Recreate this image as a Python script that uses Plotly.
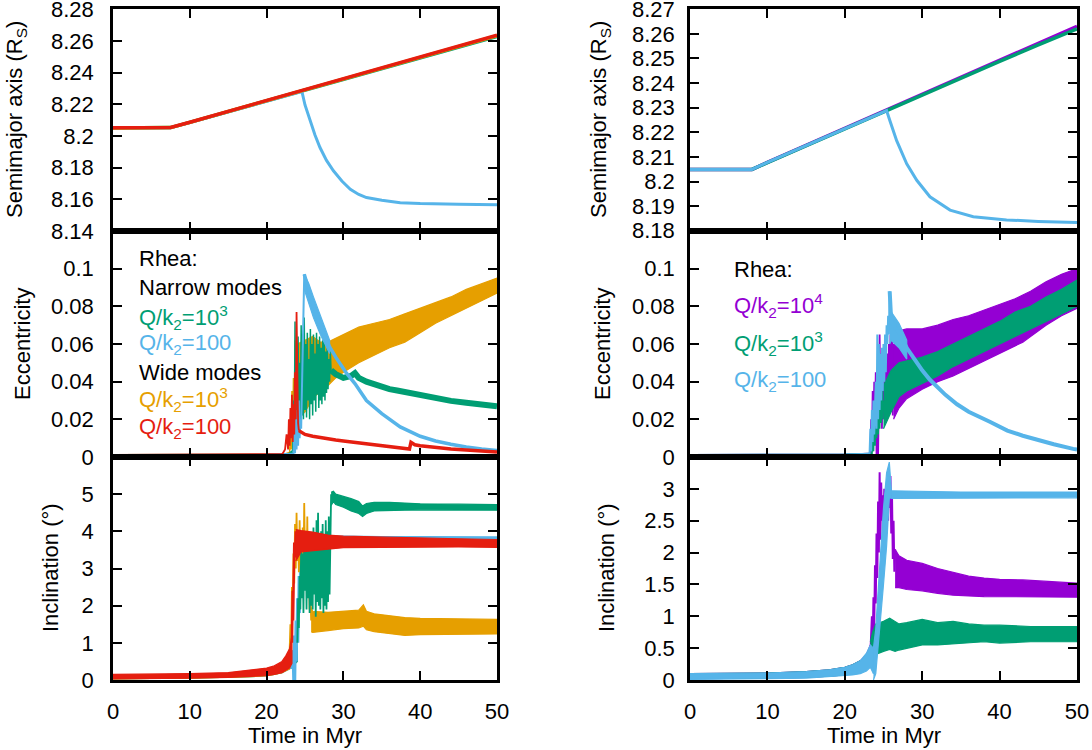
import plotly.graph_objects as go

W, H = 1092, 750
FONT = "Liberation Sans, Arial, Helvetica, sans-serif"
PURPLE = "#9400D3"
GREEN = "#009E73"
BLUE = "#56B4E9"
ORANGE = "#E69F00"
RED = "#E51E10"

TIME_TICKS = [0, 10, 20, 30, 40, 50]

# ================= LEFT COLUMN (narrow / wide modes) =================
# ---- semimajor axis (R_S) ----
T_A_L = [0, 3, 7.5, 10, 15, 20, 24.6, 30, 35, 40, 45, 50]
A_L_N1E3 = [8.2050, 8.2050, 8.2052, 8.2085, 8.2153, 8.2222, 8.2285, 8.2357, 8.2426, 8.2494, 8.2561, 8.2628]
A_L_W1E3 = [8.2050, 8.2050, 8.2052, 8.2085, 8.2153, 8.2222, 8.2285, 8.2359, 8.2428, 8.2497, 8.2565, 8.2633]
A_L_W100 = [8.2051, 8.2051, 8.2053, 8.2086, 8.2155, 8.2224, 8.2287, 8.2361, 8.2430, 8.2499, 8.2567, 8.2636]
T_A_L_N100 = [0, 3, 7.5, 10, 15, 20, 24.6, 25.0, 25.65, 26.3, 26.95, 27.8, 28.7, 29.8, 30.9, 32, 33, 35, 37.4, 40, 45, 50]
A_L_N100 = [8.2049, 8.2049, 8.2051, 8.2084, 8.2152, 8.2221, 8.2280, 8.2195, 8.2094, 8.2005, 8.1926, 8.1845,
            8.1779, 8.1715, 8.1663, 8.1630, 8.1610, 8.1593, 8.1578, 8.1572, 8.1568, 8.1565]

# ---- eccentricity ----
# narrow, Q/k2=1e3 (green)
T_E_L_N1E3_PRE = [0, 10, 20, 23.0, 23.4]
E_L_N1E3_PRE = [0.0008, 0.0008, 0.001, 0.0015, 0.003]
T_E_L_N1E3_SPK = [23.4, 23.5, 23.6, 23.7, 23.8, 23.9, 24.0, 24.1, 24.2, 24.3, 24.4, 24.5, 24.6, 24.7, 24.8, 24.9,
                  25.0, 25.1, 25.2, 25.3, 25.4, 25.5, 25.6, 25.7, 25.8, 25.9, 26.0, 26.1, 26.2, 26.3, 26.4, 26.5,
                  26.6, 26.7, 26.8, 26.9, 27.0, 27.1, 27.2, 27.3, 27.4, 27.5, 27.6, 27.7, 27.8, 27.9, 28.0, 28.1,
                  28.2, 28.3, 28.4]
E_L_N1E3_SPK = [0.003, 0.030, 0.010, 0.072, 0.015, 0.055, 0.012, 0.064, 0.020, 0.050, 0.019, 0.070, 0.022, 0.058,
                0.020, 0.074, 0.025, 0.060, 0.021, 0.066, 0.030, 0.052, 0.020, 0.068, 0.028, 0.060, 0.022, 0.065,
                0.030, 0.055, 0.024, 0.066, 0.033, 0.060, 0.026, 0.064, 0.030, 0.058, 0.028, 0.062, 0.032, 0.066,
                0.030, 0.056, 0.034, 0.060, 0.036, 0.052, 0.040, 0.056, 0.045]
T_E_L_N1E3_POST = [28.4, 29, 30, 31, 31.5, 32, 33, 34, 35, 36, 37, 38, 40, 42, 44, 46, 48, 50]
E_L_N1E3_POST = [0.046, 0.044, 0.042, 0.043, 0.0445, 0.042, 0.040, 0.0385, 0.037, 0.036, 0.0353, 0.0345, 0.0325,
                 0.031, 0.0298, 0.0288, 0.0278, 0.027]

# narrow, Q/k2=100 (blue)
T_E_L_N100_PRE = [0, 10, 20, 23.5]
E_L_N100_PRE = [0.0008, 0.0008, 0.001, 0.0015]
T_E_L_N100_SPK = [23.5, 23.6, 23.7, 23.8, 23.9, 24.0, 24.1, 24.2, 24.3, 24.4, 24.5, 24.6, 24.7, 24.8, 24.9]
E_L_N100_SPK = [0.0015, 0.012, 0.002, 0.020, 0.004, 0.025, 0.006, 0.030, 0.010, 0.020, 0.015, 0.040, 0.065, 0.085, 0.097]
T_E_L_N100_BAND = [24.9, 25.5, 26.1, 27.0, 28.2]
E_L_N100_LO = [0.089, 0.081, 0.074, 0.065, 0.055]
E_L_N100_HI = [0.097, 0.092, 0.085, 0.075, 0.062]
T_E_L_N100_DEC = [24.9, 25.5, 26.1, 27, 28.2, 29, 30.4, 31.5, 33, 35, 37.4, 40, 42, 44, 46, 48, 50]
E_L_N100_DEC = [0.097, 0.088, 0.080, 0.070, 0.0585, 0.053, 0.0445, 0.039, 0.030, 0.023, 0.016, 0.011, 0.0085,
                0.0068, 0.0053, 0.0043, 0.0035]

# wide, Q/k2=1e3 (orange)
T_E_L_W1E3_PRE = [0, 10, 20, 22.6, 23.0]
E_L_W1E3_PRE = [0.0008, 0.0008, 0.001, 0.0015, 0.002]
T_E_L_W1E3_SPK = [23.0, 23.1, 23.2, 23.3, 23.4, 23.5, 23.6, 23.7, 23.8, 23.9, 24.0]
E_L_W1E3_SPK = [0.002, 0.015, 0.004, 0.035, 0.010, 0.042, 0.018, 0.062, 0.015, 0.058, 0.020]
T_E_L_W1E3_BAND = [24.0, 25, 26, 27, 28, 29, 30, 32, 34, 36, 38, 40, 42, 44, 46, 48, 50]
E_L_W1E3_LO = [0.020, 0.024, 0.031, 0.035, 0.038, 0.042, 0.045, 0.050, 0.054, 0.058, 0.061, 0.066, 0.071, 0.075,
               0.079, 0.083, 0.087]
E_L_W1E3_HI = [0.060, 0.062, 0.064, 0.061, 0.061, 0.063, 0.065, 0.069, 0.071, 0.073, 0.076, 0.079, 0.082, 0.085,
               0.089, 0.092, 0.095]

# wide, Q/k2=100 (red)
T_E_L_W100_PRE = [0, 10, 20, 22.0]
E_L_W100_PRE = [0.0008, 0.0008, 0.001, 0.0012]
T_E_L_W100_SPK = [22.0, 22.4, 22.6, 22.8, 22.9, 23.0, 23.1, 23.2, 23.3, 23.4, 23.5, 23.6, 23.7, 23.8, 23.9, 24.0,
                  24.1, 24.2]
E_L_W100_SPK = [0.0012, 0.004, 0.012, 0.004, 0.020, 0.006, 0.026, 0.010, 0.033, 0.008, 0.028, 0.012, 0.045, 0.020,
                0.077, 0.030, 0.018, 0.014]
T_E_L_W100_POST = [24.2, 25, 26, 27, 28, 29, 30, 32, 34, 36, 38, 38.6, 38.8, 39.3, 40, 42, 44, 46, 48, 50]
E_L_W100_POST = [0.014, 0.012, 0.011, 0.0102, 0.0095, 0.009, 0.0085, 0.0075, 0.0065, 0.0055, 0.0045, 0.0042,
                 0.0078, 0.0065, 0.006, 0.005, 0.0043, 0.0037, 0.0032, 0.0027]

# ---- inclination (deg) ----
# narrow, Q/k2=1e3 (green)
T_I_L_N1E3_PRE = [0, 5, 10, 15, 18, 20, 21, 22, 22.5, 23.0, 23.5, 24.0]
I_L_N1E3_PRE_LO = [0.03, 0.04, 0.05, 0.07, 0.09, 0.12, 0.15, 0.20, 0.25, 0.30, 0.40, 0.50]
I_L_N1E3_PRE_HI = [0.13, 0.13, 0.15, 0.17, 0.21, 0.27, 0.32, 0.40, 0.48, 0.60, 0.80, 1.00]
T_I_L_N1E3_SPK = [24.0, 24.1, 24.2, 24.3, 24.4, 24.5, 24.6, 24.7, 24.8, 24.9, 25.0, 25.1, 25.2, 25.3, 25.4, 25.5,
                  25.6, 25.7, 25.8, 25.9, 26.0, 26.1, 26.2, 26.3, 26.4, 26.5, 26.6, 26.7, 26.8, 26.9, 27.0, 27.1,
                  27.2, 27.3, 27.4, 27.5, 27.6, 27.7, 27.8, 27.9, 28.0, 28.1, 28.2, 28.3, 28.4]
I_L_N1E3_SPK = [1.0, 2.2, 1.4, 2.8, 1.9, 3.6, 2.2, 3.4, 1.8, 3.9, 2.4, 3.7, 1.9, 4.0, 2.2, 3.5, 1.8, 3.9, 2.0,
                3.6, 1.9, 4.1, 2.3, 3.8, 1.7, 4.3, 2.1, 4.5, 2.0, 3.8, 1.9, 4.0, 2.2, 4.2, 1.8, 3.9, 2.0, 4.3,
                1.9, 4.0, 2.1, 4.4, 2.3, 4.6, 5.0]
T_I_L_N1E3_POST = [28.4, 28.7, 29, 30, 31, 32, 32.5, 33, 34, 36, 38, 40, 45, 50]
I_L_N1E3_LO = [4.70, 4.80, 4.72, 4.65, 4.55, 4.48, 4.40, 4.48, 4.55, 4.56, 4.57, 4.58, 4.58, 4.57]
I_L_N1E3_HI = [5.05, 5.08, 5.00, 4.95, 4.88, 4.80, 4.68, 4.75, 4.78, 4.78, 4.76, 4.74, 4.73, 4.72]

# narrow, Q/k2=100 (blue)
T_I_L_N100_PRE = [0, 5, 10, 15, 18, 20, 21, 22, 22.5, 23.0]
I_L_N100_PRE_LO = [0.04, 0.05, 0.06, 0.08, 0.10, 0.13, 0.16, 0.20, 0.25, 0.30]
I_L_N100_PRE_HI = [0.14, 0.14, 0.15, 0.17, 0.22, 0.28, 0.33, 0.42, 0.50, 0.60]
T_I_L_N100_SPK = [23.0, 23.2, 23.4, 23.5, 23.6, 23.7, 23.8, 23.9, 24.0, 24.1, 24.2, 24.3, 24.4, 24.5, 24.6, 24.8, 25.0]
I_L_N100_SPK = [0.6, 0.3, 0.8, 0.0, 1.2, 0.0, 1.6, 0.5, 2.2, 1.0, 2.8, 1.8, 3.3, 2.6, 3.6, 3.4, 3.8]
T_I_L_N100_POST = [25.0, 26, 28, 30, 35, 40, 45, 50]
I_L_N100_LO = [3.60, 3.62, 3.64, 3.65, 3.66, 3.66, 3.66, 3.66]
I_L_N100_HI = [3.95, 3.90, 3.88, 3.87, 3.86, 3.86, 3.85, 3.85]

# wide, Q/k2=1e3 (orange)
T_I_L_W1E3_PRE = [0, 5, 10, 15, 18, 20, 21, 22, 22.5, 23.0]
I_L_W1E3_PRE_LO = [0.03, 0.04, 0.05, 0.07, 0.09, 0.12, 0.15, 0.20, 0.25, 0.30]
I_L_W1E3_PRE_HI = [0.13, 0.13, 0.15, 0.17, 0.21, 0.27, 0.32, 0.42, 0.55, 0.80]
T_I_L_W1E3_SPK = [23.0, 23.1, 23.2, 23.3, 23.4, 23.5, 23.6, 23.7, 23.8, 23.9, 24.0, 24.1, 24.2, 24.3, 24.4, 24.5,
                  24.6, 24.7, 24.8, 24.9, 25.0, 25.1, 25.2, 25.3, 25.4, 25.5, 25.6, 25.7, 25.8]
I_L_W1E3_SPK = [0.8, 1.5, 1.0, 2.5, 1.8, 3.4, 2.6, 4.2, 3.0, 4.5, 3.2, 4.0, 2.9, 4.3, 3.1, 3.9, 2.8, 4.1, 3.0,
                4.76, 3.2, 4.0, 2.7, 4.4, 2.4, 3.6, 1.9, 2.4, 1.6]
T_I_L_W1E3_POST = [25.8, 26, 28, 30, 32, 32.6, 33, 34, 36, 38, 40, 45, 50]
I_L_W1E3_LO = [1.30, 1.28, 1.33, 1.38, 1.40, 1.45, 1.35, 1.30, 1.25, 1.20, 1.22, 1.24, 1.24]
I_L_W1E3_HI = [1.95, 1.85, 1.82, 1.85, 1.88, 2.02, 1.85, 1.78, 1.72, 1.68, 1.66, 1.65, 1.63]

# wide, Q/k2=100 (red)
T_I_L_W100_PRE = [0, 5, 10, 15, 18, 20, 21, 22, 22.5, 23.0, 23.3]
I_L_W100_PRE_LO = [0.03, 0.04, 0.05, 0.07, 0.10, 0.12, 0.15, 0.20, 0.26, 0.33, 0.45]
I_L_W100_PRE_HI = [0.15, 0.15, 0.17, 0.20, 0.26, 0.32, 0.38, 0.50, 0.65, 0.85, 1.20]
T_I_L_W100_SPK = [23.3, 23.4, 23.45, 23.5, 23.55, 23.6, 23.7, 23.8]
I_L_W100_SPK = [1.0, 2.4, 1.6, 3.2, 2.5, 3.7, 3.3, 4.0]
T_I_L_W100_POST = [23.8, 24.5, 26, 28, 30, 35, 40, 45, 50]
I_L_W100_LO = [3.20, 3.45, 3.48, 3.52, 3.56, 3.58, 3.58, 3.58, 3.57]
I_L_W100_HI = [4.05, 4.02, 3.98, 3.90, 3.87, 3.84, 3.82, 3.80, 3.78]

# ================= RIGHT COLUMN (Q/k2 = 1e4, 1e3, 100) =================
T_A_R = [0, 4, 8.0, 10, 15, 20, 25.4, 30, 35, 40, 45, 50]
A_R_1E4 = [8.2049, 8.2049, 8.2049, 8.2078, 8.2147, 8.2216, 8.2290, 8.2354, 8.2423, 8.2492, 8.2561, 8.2631]
A_R_1E3 = [8.2049, 8.2049, 8.2049, 8.2077, 8.2146, 8.2215, 8.2289, 8.2352, 8.2420, 8.2488, 8.2555, 8.2620]
T_A_R_100 = [0, 4, 8.0, 10, 15, 20, 25.4, 25.84, 26.7, 28.0, 29.3, 31.0, 33.6, 36.6, 40.9, 45, 50]
A_R_100 = [8.2049, 8.2049, 8.2049, 8.2078, 8.2147, 8.2216, 8.2288, 8.2246, 8.2166, 8.2072, 8.2005, 8.1938,
           8.1884, 8.1857, 8.1844, 8.1838, 8.1834]

# eccentricity, Q/k2=1e4 (purple)
T_E_R_1E4_PRE = [0, 10, 20, 23.3]
E_R_1E4_PRE = [0.0008, 0.0008, 0.001, 0.0015]
T_E_R_1E4_SPK = [23.3, 23.4, 23.5, 23.6, 23.7, 23.8, 23.9, 24.0, 24.1, 24.2, 24.3, 24.4, 24.5, 24.6, 24.7, 24.8,
                 24.9, 25.0, 25.1, 25.2, 25.3, 25.4, 25.5, 25.6, 25.7, 25.8, 25.9, 26.0, 26.1, 26.2, 26.3]
E_R_1E4_SPK = [0.0015, 0.020, 0.005, 0.035, 0.010, 0.040, 0.020, 0.045, 0.000, 0.030, 0.000, 0.050, 0.065, 0.020,
               0.055, 0.015, 0.050, 0.020, 0.045, 0.025, 0.050, 0.020, 0.055, 0.030, 0.060, 0.025, 0.065, 0.030,
               0.067, 0.022, 0.060]
T_E_R_1E4_BAND = [26.3, 27, 28, 30, 32, 34, 36, 38, 40, 42, 43, 44, 46, 48, 50]
E_R_1E4_LO = [0.020, 0.026, 0.031, 0.036, 0.040, 0.043, 0.047, 0.051, 0.055, 0.059, 0.061, 0.064, 0.070, 0.075, 0.079]
E_R_1E4_HI = [0.066, 0.067, 0.068, 0.068, 0.070, 0.073, 0.075, 0.078, 0.081, 0.084, 0.086, 0.088, 0.093, 0.097, 0.100]

# eccentricity, Q/k2=1e3 (green)
T_E_R_1E3_PRE = [0, 10, 20, 23.5]
E_R_1E3_PRE = [0.0008, 0.0008, 0.001, 0.0015]
T_E_R_1E3_SPK = [23.5, 23.6, 23.7, 23.8, 23.9, 24.0, 24.1, 24.2, 24.3, 24.4, 24.5, 24.6, 24.7, 24.8, 24.9, 25.0]
E_R_1E3_SPK = [0.0015, 0.012, 0.003, 0.020, 0.006, 0.028, 0.010, 0.035, 0.012, 0.040, 0.015, 0.045, 0.018, 0.035,
               0.020, 0.030]
T_E_R_1E3_BAND = [25, 26, 27, 28, 30, 32, 34, 36, 38, 40, 42, 44, 46, 48, 50]
E_R_1E3_LO = [0.015, 0.024, 0.032, 0.035, 0.039, 0.043, 0.048, 0.052, 0.056, 0.060, 0.064, 0.068, 0.072, 0.076, 0.080]
E_R_1E3_HI = [0.038, 0.046, 0.050, 0.051, 0.053, 0.056, 0.060, 0.064, 0.068, 0.072, 0.077, 0.080, 0.085, 0.089, 0.094]

# eccentricity, Q/k2=100 (blue)
T_E_R_100_PRE = [0, 10, 20, 23.2]
E_R_100_PRE = [0.0008, 0.0008, 0.001, 0.0015]
T_E_R_100_SPK = [23.2, 23.3, 23.4, 23.5, 23.6, 23.7, 23.8, 23.9, 24.0, 24.1, 24.2, 24.3, 24.4, 24.5, 24.6, 24.7,
                 24.8, 24.9, 25.0, 25.1, 25.2, 25.3, 25.4, 25.5, 25.6, 25.7, 25.8]
E_R_100_SPK = [0.0015, 0.015, 0.003, 0.025, 0.008, 0.030, 0.012, 0.022, 0.040, 0.015, 0.065, 0.020, 0.060, 0.025,
               0.055, 0.030, 0.058, 0.035, 0.060, 0.040, 0.065, 0.045, 0.070, 0.060, 0.075, 0.065, 0.088]
T_E_R_100_BAND = [25.8, 26, 27, 28]
E_R_100_LO = [0.060, 0.062, 0.058, 0.052]
E_R_100_HI = [0.078, 0.077, 0.071, 0.062]
T_E_R_100_DEC = [25.8, 26, 27, 28, 29, 30, 31, 32, 33, 34.5, 36, 38.8, 41, 43, 45, 47, 49.5, 50]
E_R_100_DEC = [0.088, 0.072, 0.066, 0.058, 0.052, 0.046, 0.041, 0.037, 0.033, 0.028, 0.024, 0.0186, 0.014, 0.0113,
               0.0088, 0.0068, 0.0043, 0.004]

# inclination, Q/k2=1e4 (purple)
T_I_R_1E4_PRE = [0, 5, 10, 15, 18, 20, 21, 22, 22.8, 23.3]
I_R_1E4_PRE_LO = [0.02, 0.02, 0.03, 0.04, 0.06, 0.08, 0.10, 0.13, 0.18, 0.25]
I_R_1E4_PRE_HI = [0.10, 0.10, 0.11, 0.13, 0.16, 0.20, 0.24, 0.30, 0.40, 0.55]
T_I_R_1E4_SPK = [23.3, 23.5, 23.6, 23.7, 23.8, 23.9, 24.0, 24.1, 24.2, 24.3, 24.4, 24.5, 24.6, 24.7, 24.8, 24.9,
                 25.0, 25.1, 25.2, 25.3, 25.4, 25.5, 25.6, 25.7, 25.8, 25.9, 26.0, 26.1, 26.2, 26.3, 26.4, 26.5]
I_R_1E4_SPK = [0.4, 1.0, 0.5, 1.3, 0.8, 1.8, 1.2, 2.3, 1.6, 2.8, 2.0, 3.26, 2.2, 3.1, 2.5, 2.9, 2.3, 3.0, 2.6,
               2.8, 2.3, 3.0, 2.5, 3.3, 2.7, 3.2, 2.3, 2.9, 1.9, 2.5, 1.7, 2.05]
T_I_R_1E4_BAND = [26.5, 27, 28, 30, 32, 34, 36, 38, 40, 43, 46, 50]
I_R_1E4_LO = [1.45, 1.45, 1.42, 1.40, 1.36, 1.33, 1.32, 1.31, 1.30, 1.30, 1.30, 1.30]
I_R_1E4_HI = [2.05, 1.95, 1.88, 1.83, 1.75, 1.69, 1.63, 1.60, 1.58, 1.57, 1.55, 1.52]

# inclination, Q/k2=1e3 (green)
T_I_R_1E3_PRE = [0, 5, 10, 15, 18, 20, 21, 22, 22.8, 23.3]
I_R_1E3_PRE_LO = [0.02, 0.02, 0.03, 0.04, 0.06, 0.08, 0.10, 0.13, 0.18, 0.22]
I_R_1E3_PRE_HI = [0.10, 0.10, 0.11, 0.13, 0.16, 0.20, 0.24, 0.30, 0.38, 0.50]
T_I_R_1E3_BAND = [23.3, 23.6, 24, 25, 25.8, 26.5, 27, 28, 30, 32, 34, 36, 38, 40, 44, 50]
I_R_1E3_LO = [0.25, 0.35, 0.40, 0.45, 0.48, 0.45, 0.47, 0.50, 0.55, 0.55, 0.57, 0.58, 0.60, 0.58, 0.60, 0.60]
I_R_1E3_HI = [0.60, 0.75, 0.88, 0.92, 0.97, 0.92, 0.88, 0.90, 0.95, 0.90, 0.92, 0.88, 0.86, 0.86, 0.84, 0.84]

# inclination, Q/k2=100 (blue)
T_I_R_100_PRE = [0, 5, 10, 15, 18, 20, 21, 22, 22.8, 23.3, 23.7]
I_R_100_PRE_LO = [0.01, 0.02, 0.02, 0.03, 0.05, 0.07, 0.08, 0.10, 0.14, 0.20, 0.10]
I_R_100_PRE_HI = [0.10, 0.10, 0.11, 0.13, 0.16, 0.20, 0.24, 0.30, 0.42, 0.55, 0.50]
T_I_R_100_RISE = [23.7, 24.0, 24.2, 24.6, 25.0, 25.4, 25.75, 26.0]
I_R_100_RISE_LO = [0.00, 0.10, 0.40, 0.90, 1.50, 2.10, 2.85, 2.86]
I_R_100_RISE_HI = [0.50, 0.80, 1.20, 2.00, 2.70, 3.25, 3.42, 3.00]
T_I_R_100_FLAT = [26, 30, 35, 40, 45, 50]
I_R_100_LO = [2.85, 2.86, 2.86, 2.86, 2.86, 2.86]
I_R_100_HI = [2.97, 2.96, 2.95, 2.95, 2.95, 2.95]

# ---- tick labels ----
YT_A_L = [8.14, 8.16, 8.18, 8.20, 8.22, 8.24, 8.26, 8.28]
YL_A_L = ["8.14", "8.16", "8.18", "8.2", "8.22", "8.24", "8.26", "8.28"]
YT_E = [0, 0.02, 0.04, 0.06, 0.08, 0.1]
YL_E = ["0", "0.02", "0.04", "0.06", "0.08", "0.1"]
YT_I_L = [0, 1, 2, 3, 4, 5]
YL_I_L = ["0", "1", "2", "3", "4", "5"]
YT_A_R = [8.18, 8.19, 8.20, 8.21, 8.22, 8.23, 8.24, 8.25, 8.26, 8.27]
YL_A_R = ["8.18", "8.19", "8.2", "8.21", "8.22", "8.23", "8.24", "8.25", "8.26", "8.27"]
YT_I_R = [0, 0.5, 1, 1.5, 2, 2.5, 3]
YL_I_R = ["0", "0.5", "1", "1.5", "2", "2.5", "3"]

# ================= figure =================
fig = go.Figure()


def ax(k):
    return ("x" if k == 1 else f"x{k}"), ("y" if k == 1 else f"y{k}")


def line(k, t, y, color, width=2.0):
    xa, ya = ax(k)
    fig.add_trace(go.Scatter(x=t, y=y, mode="lines", line=dict(color=color, width=width),
                             xaxis=xa, yaxis=ya, showlegend=False, hoverinfo="skip"))


def band(k, t, lo, hi, color):
    xa, ya = ax(k)
    fig.add_trace(go.Scatter(x=list(t) + list(t)[::-1], y=list(hi) + list(lo)[::-1], mode="lines",
                             fill="toself", fillcolor=color, line=dict(color=color, width=1.2),
                             xaxis=xa, yaxis=ya, showlegend=False, hoverinfo="skip"))


# --- panel 1: left semimajor axis ---
line(1, T_A_L, A_L_N1E3, GREEN, 3.5)
line(1, T_A_L_N100, A_L_N100, BLUE, 3)
line(1, T_A_L, A_L_W1E3, ORANGE, 3.5)
line(1, T_A_L, A_L_W100, RED, 3.5)

# --- panel 2: left eccentricity ---
line(2, T_E_L_W1E3_PRE, E_L_W1E3_PRE, ORANGE, 3)
line(2, T_E_L_W1E3_SPK, E_L_W1E3_SPK, ORANGE, 1.5)
band(2, T_E_L_W1E3_BAND, E_L_W1E3_LO, E_L_W1E3_HI, ORANGE)
line(2, T_E_L_N1E3_PRE, E_L_N1E3_PRE, GREEN, 3)
line(2, T_E_L_N1E3_SPK, E_L_N1E3_SPK, GREEN, 1.5)
line(2, T_E_L_N1E3_POST, E_L_N1E3_POST, GREEN, 6)
line(2, T_E_L_N100_PRE, E_L_N100_PRE, BLUE, 3)
line(2, T_E_L_N100_SPK, E_L_N100_SPK, BLUE, 2)
band(2, T_E_L_N100_BAND, E_L_N100_LO, E_L_N100_HI, BLUE)
line(2, T_E_L_N100_DEC, E_L_N100_DEC, BLUE, 3.5)
line(2, T_E_L_W100_PRE, E_L_W100_PRE, RED, 3)
line(2, T_E_L_W100_SPK, E_L_W100_SPK, RED, 1.8)
line(2, T_E_L_W100_POST, E_L_W100_POST, RED, 3.5)

# --- panel 3: left inclination ---
band(3, T_I_L_N1E3_PRE, I_L_N1E3_PRE_LO, I_L_N1E3_PRE_HI, GREEN)
band(3, T_I_L_N1E3_POST, I_L_N1E3_LO, I_L_N1E3_HI, GREEN)
band(3, T_I_L_N100_PRE, I_L_N100_PRE_LO, I_L_N100_PRE_HI, BLUE)
line(3, T_I_L_N100_SPK, I_L_N100_SPK, BLUE, 2.5)
band(3, T_I_L_N100_POST, I_L_N100_LO, I_L_N100_HI, BLUE)
band(3, T_I_L_W1E3_PRE, I_L_W1E3_PRE_LO, I_L_W1E3_PRE_HI, ORANGE)
line(3, T_I_L_W1E3_SPK, I_L_W1E3_SPK, ORANGE, 1.8)
band(3, T_I_L_W1E3_POST, I_L_W1E3_LO, I_L_W1E3_HI, ORANGE)
line(3, T_I_L_N1E3_SPK, I_L_N1E3_SPK, GREEN, 1.8)
band(3, T_I_L_W100_PRE, I_L_W100_PRE_LO, I_L_W100_PRE_HI, RED)
line(3, T_I_L_W100_SPK, I_L_W100_SPK, RED, 2.5)
band(3, T_I_L_W100_POST, I_L_W100_LO, I_L_W100_HI, RED)

# --- panel 4: right semimajor axis ---
line(4, T_A_R, A_R_1E4, PURPLE, 3.5)
line(4, T_A_R, A_R_1E3, GREEN, 3.5)
line(4, T_A_R_100, A_R_100, BLUE, 3)

# --- panel 5: right eccentricity ---
line(5, T_E_R_1E4_PRE, E_R_1E4_PRE, PURPLE, 3)
line(5, T_E_R_1E4_SPK, E_R_1E4_SPK, PURPLE, 1.8)
band(5, T_E_R_1E4_BAND, E_R_1E4_LO, E_R_1E4_HI, PURPLE)
line(5, T_E_R_1E3_PRE, E_R_1E3_PRE, GREEN, 3)
line(5, T_E_R_1E3_SPK, E_R_1E3_SPK, GREEN, 1.8)
band(5, T_E_R_1E3_BAND, E_R_1E3_LO, E_R_1E3_HI, GREEN)
line(5, T_E_R_100_PRE, E_R_100_PRE, BLUE, 3)
line(5, T_E_R_100_SPK, E_R_100_SPK, BLUE, 2)
band(5, T_E_R_100_BAND, E_R_100_LO, E_R_100_HI, BLUE)
line(5, T_E_R_100_DEC, E_R_100_DEC, BLUE, 4)

# --- panel 6: right inclination ---
band(6, T_I_R_1E4_PRE, I_R_1E4_PRE_LO, I_R_1E4_PRE_HI, PURPLE)
line(6, T_I_R_1E4_SPK, I_R_1E4_SPK, PURPLE, 2)
band(6, T_I_R_1E4_BAND, I_R_1E4_LO, I_R_1E4_HI, PURPLE)
band(6, T_I_R_1E3_PRE, I_R_1E3_PRE_LO, I_R_1E3_PRE_HI, GREEN)
band(6, T_I_R_1E3_BAND, I_R_1E3_LO, I_R_1E3_HI, GREEN)
band(6, T_I_R_100_PRE, I_R_100_PRE_LO, I_R_100_PRE_HI, BLUE)
band(6, T_I_R_100_RISE, I_R_100_RISE_LO, I_R_100_RISE_HI, BLUE)
band(6, T_I_R_100_FLAT, I_R_100_LO, I_R_100_HI, BLUE)

# ================= axes / layout =================
XL = [113 / W, 497 / W]
XR = [690 / W, 1077 / W]
ROW = {0: [1 - 231 / H, 1 - 9 / H], 1: [1 - 457 / H, 1 - 231 / H], 2: [1 - 680 / H, 1 - 457 / H]}

panels = [
    (1, XL, ROW[0], [8.1399, 8.2801], YT_A_L, YL_A_L, False, 12),
    (2, XL, ROW[1], [0, 0.12], YT_E, YL_E, False, 12),
    (3, XL, ROW[2], [0, 6], YT_I_L, YL_I_L, True, 12),
    (4, XR, ROW[0], [8.1799, 8.2701], YT_A_R, YL_A_R, False, 8),
    (5, XR, ROW[1], [0, 0.12], YT_E, YL_E, False, 8),
    (6, XR, ROW[2], [0, 3.5], YT_I_R, YL_I_R, True, 8),
]

tickfont = dict(family=FONT, size=22, color="black")
layout = {}
for k, xd, yd, yr, yv, yl, showx, ystand in panels:
    sfx = "" if k == 1 else str(k)
    layout["xaxis" + sfx] = dict(
        domain=xd, anchor="y" + sfx, range=[0, 50], tickvals=TIME_TICKS,
        ticktext=[str(v) for v in TIME_TICKS], showticklabels=showx,
        ticks="inside", ticklen=9, tickwidth=1.5, tickcolor="black",
        showline=True, linewidth=2.5, linecolor="black", mirror="allticks",
        showgrid=False, zeroline=False, tickfont=tickfont, ticklabelstandoff=10,
        ticklabeloverflow="allow", automargin=False,
    )
    layout["yaxis" + sfx] = dict(
        domain=yd, anchor="x" + sfx, range=yr, tickvals=yv, ticktext=yl,
        ticks="inside", ticklen=9, tickwidth=1.5, tickcolor="black",
        showline=True, linewidth=2.5, linecolor="black", mirror="allticks",
        showgrid=False, zeroline=False, tickfont=tickfont, ticklabelstandoff=ystand,
        ticklabeloverflow="allow", automargin=False,
    )

ann = []


def text(xpx, ypx, s, color="black", angle=0, xanchor="left"):
    ann.append(dict(x=xpx / W, y=1 - ypx / H, xref="paper", yref="paper", text=s, showarrow=False,
                    font=dict(family=FONT, size=22, color=color), textangle=angle,
                    xanchor=xanchor, yanchor="middle"))


# axis titles
text(16, 120, "Semimajor axis (R<sub>S</sub>)", angle=-90, xanchor="center")
text(22, 344, "Eccentricity", angle=-90, xanchor="center")
text(50, 568, "Inclination (°)", angle=-90, xanchor="center")
text(600, 120, "Semimajor axis (R<sub>S</sub>)", angle=-90, xanchor="center")
text(602, 344, "Eccentricity", angle=-90, xanchor="center")
text(606, 568, "Inclination (°)", angle=-90, xanchor="center")
text(305, 735, "Time in Myr", xanchor="center")
text(884, 735, "Time in Myr", xanchor="center")

# legends
text(137, 258, "Rhea:")
text(137, 287, "Narrow modes")
text(137, 317, "Q/k<sub>2</sub>=10<sup>3</sup>", GREEN)
text(137, 344, "Q/k<sub>2</sub>=100", BLUE)
text(137, 372, "Wide modes")
text(137, 399, "Q/k<sub>2</sub>=10<sup>3</sup>", ORANGE)
text(137, 428, "Q/k<sub>2</sub>=100", RED)

text(732, 269, "Rhea:")
text(732, 306, "Q/k<sub>2</sub>=10<sup>4</sup>", PURPLE)
text(732, 343, "Q/k<sub>2</sub>=10<sup>3</sup>", GREEN)
text(732, 381, "Q/k<sub>2</sub>=100", BLUE)

fig.update_layout(
    width=W, height=H, margin=dict(l=0, r=0, t=0, b=0, autoexpand=False),
    paper_bgcolor="white", plot_bgcolor="white",
    annotations=ann, showlegend=False, font=dict(family=FONT, color="black"),
    **layout,
)

fig.write_html("out.html")
